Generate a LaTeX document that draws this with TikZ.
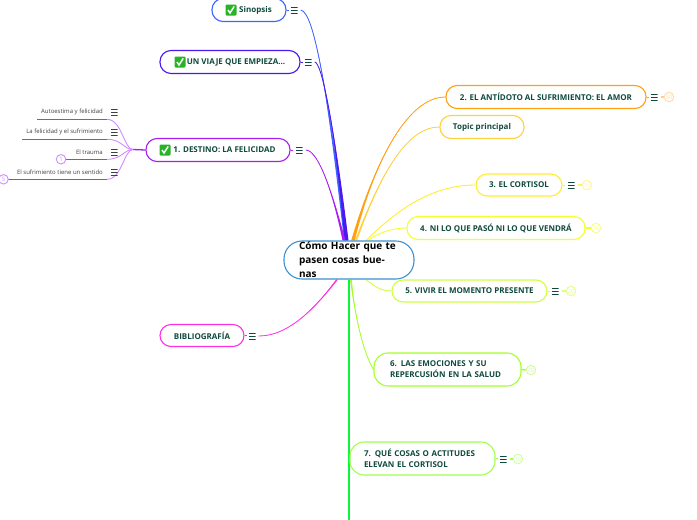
\documentclass[tikz,border=0pt]{standalone}
\usepackage{fontspec}
\setmainfont{Open Sans}
\usetikzlibrary{calc,backgrounds}
\definecolor{cSin}{HTML}{3F63FF}
\definecolor{cVia}{HTML}{4A18F0}
\definecolor{cDes}{HTML}{A81EF0}
\definecolor{cUnd}{HTML}{B030FF}
\definecolor{cSub}{HTML}{D08CFF}
\definecolor{cAnt}{HTML}{FFA010}
\definecolor{cTop}{HTML}{FFD040}
\definecolor{cTre}{HTML}{FFEE30}
\definecolor{cCua}{HTML}{F2FF30}
\definecolor{cCin}{HTML}{D0FF40}
\definecolor{cSei}{HTML}{A4FF28}
\definecolor{cSie}{HTML}{A0FF50}
\definecolor{cGre}{HTML}{08F838}
\definecolor{cBib}{HTML}{FF30E4}
\definecolor{cRoot}{HTML}{3E90D0}
\definecolor{cTxt}{HTML}{0F4A3C}
\tikzset{
  x=1pt,y=-1pt,
  topicbox/.style={draw=#1,line width=1.1pt,fill=white,rounded corners=11pt,inner sep=0pt,
    text=cTxt,font=\bfseries\fontsize{8}{11.2}\selectfont,align=left},
  menuicon/.style={minimum width=7pt,minimum height=7pt,inner sep=0pt,
    path picture={\draw[#1,line width=.7pt]
      (path picture bounding box.north west)++(0,.5) -- ++(7,0)
      ++(-7,3) -- ++(7,0) ++(-7,3) -- ++(7,0);}},
  countnode/.style={circle,draw=#1,line width=.9pt,fill=white,inner sep=0pt,minimum size=9.5pt,
    text=#1,font=\fontsize{6}{6}\selectfont},
  subtext/.style={anchor=east,inner sep=0pt,text=black!75,font=\fontsize{6}{7}\selectfont},
  subline/.style={draw=cUnd,line width=1.5pt},
  thinlink/.style={draw=#1,line width=.9pt},
  stublink/.style={draw=#1,line width=1.3pt},
  check/.pic={
    \fill[rounded corners=1.2pt,fill=green!65!black!85!white] (-5.5,-5.5) rectangle (5.5,5.5);
    \draw[white,line width=1.5pt] (-3,0) -- (-1,3) -- (3.2,-3.6);
  }
}
% colour, start, control 1, control 2, end, half width at start
\newcommand\taper[6]{%
  \fill[#1] ($(#2)+(-#6,0)$) .. controls (#3) and (#4) .. (#5) .. controls (#4) and (#3) .. ($(#2)+(#6,0)$) -- cycle;
  \draw[#1,line width=.8pt] (#2) .. controls (#3) and (#4) .. (#5);}
\begin{document}
\begin{tikzpicture}
\useasboundingbox (0,0) rectangle (697,520);
\clip (0,0) rectangle (697,520);

% root
\node[topicbox=cRoot,rounded corners=18pt,text=black,font=\bfseries\fontsize{10}{14}\selectfont,
  minimum width=130pt,minimum height=38pt,text width=100pt] (root) at (349,260) {Cómo Hacer que te\\pasen cosas buenas};

% left branches
\node[topicbox=cSin,minimum width=74pt,minimum height=23pt] (sin) at (249,10) {\hspace*{13pt}Sinopsis};
\pic at (231,10) {check};
\node[menuicon=cTxt] (msin) at (294,10) {};
\node[topicbox=cVia,minimum width=140pt,minimum height=23pt] (via) at (230,62) {\hspace*{12pt}UN VIAJE QUE EMPIEZA...};
\pic at (180,62) {check};
\node[menuicon=cTxt] (mvia) at (308,62) {};
\node[topicbox=cDes,minimum width=144pt,minimum height=23pt] (des) at (218,150) {\hspace*{13pt}1. DESTINO: LA FELICIDAD};
\pic at (165,150) {check};
\node[menuicon=cTxt] (mdes) at (299,150) {};
\node[topicbox=cBib,minimum width=84pt,minimum height=22pt] (bib) at (202,335.5) {BIBLIOGRAFÍA};
\node[menuicon=cTxt] (mbib) at (252,336) {};

% sub topics
\node[subtext] (s1) at (103,112) {Autoestima y felicidad};
\node[subtext] (s2) at (103,132) {La felicidad y el sufrimiento};
\node[subtext] (s3) at (103,152) {El trauma};
\node[subtext] (s4) at (103,172) {El sufrimiento tiene un sentido};
\node[menuicon=black!75] (ms1) at (114,112) {};
\node[menuicon=black!75] (ms2) at (114,132) {};
\node[menuicon=black!75] (ms3) at (114,152) {};
\node[menuicon=black!75] (ms4) at (114,172) {};
\coordinate (u1l) at (37,119.3);  \coordinate (u1r) at (107,119.3);
\coordinate (u2l) at (22,139.3);  \coordinate (u2r) at (107,139.3);
\coordinate (u3l) at (71,159.3);  \coordinate (u3r) at (107,159.3);
\coordinate (u4l) at (8,179.3);   \coordinate (u4r) at (107,179.3);
\coordinate (hub) at (133,149.5);
\node[countnode=cSub] (c3) at (61,159.3) {1};
\node[countnode=cSub] (c4) at (3.5,179.3) {5};

% right branches
\node[topicbox=cAnt,minimum width=200pt,minimum height=23pt] (ant) at (546,97) {2. EL ANTÍDOTO AL SUFRIMIENTO: EL AMOR};
\node[menuicon=cTxt] (mant) at (654,97) {};
\node[countnode=cAnt!35] (cant) at (669,97) {30};
\node[topicbox=cTop,minimum width=84pt,minimum height=23pt] (top) at (482,127) {Topic principal};
\node[topicbox=cTre,minimum width=86pt,minimum height=22pt] (tre) at (519,185) {3. EL CORTISOL};
\node[menuicon=cTxt] (mtre) at (571,185) {};
\node[countnode=cTre!50] (ctre) at (587,185) {15};
\node[topicbox=cCua,minimum width=178pt,minimum height=23pt] (cua) at (496,228) {4. NI LO QUE PASÓ NI LO QUE VENDRÁ};
\node[countnode=cCua!60] (ccua) at (596,228) {16};
\node[topicbox=cCin,minimum width=155pt,minimum height=22pt] (cin) at (469.5,291) {5. VIVIR EL MOMENTO PRESENTE};
\node[menuicon=cTxt] (mcin) at (555,291) {};
\node[countnode=cCin!60] (ccin) at (571,291) {20};
\node[topicbox=cSei,rounded corners=14pt,minimum width=147pt,minimum height=33pt,text width=115pt] (sei) at (447.5,369.5) {6. LAS EMOCIONES Y SU\\REPERCUSIÓN EN LA SALUD};
\node[countnode=cSei!50] (csei) at (531,370) {20};
\node[topicbox=cSie,rounded corners=14pt,minimum width=145pt,minimum height=33pt,text width=117pt] (sie) at (422.5,458.5) {7. QUÉ COSAS O ACTITUDES\\ELEVAN EL CORTISOL};
\node[menuicon=cTxt] (msie) at (503,459) {};
\node[countnode=cSie!50] (csie) at (518,459) {10};
\coordinate (gend) at (349,525);

\begin{scope}[on background layer]
  % tapered main branches
  \taper{cSin}{root.north-|346,0}{328,100}{315,12}{$(msin.east)+(3,0)$}{2}
  \taper{cVia}{root.north-|346.5,0}{335,130}{322,62}{$(mvia.east)+(3,0)$}{2}
  \taper{cDes}{root.north-|344,0}{332,190}{318,150}{$(mdes.east)+(3,0)$}{1.5}
  \taper{cAnt}{root.north-|353,0}{372,170}{405,97}{ant.west}{1.8}
  \taper{cTop}{root.north-|356,0}{382,170}{408,127}{top.west}{1.1}
  \taper{cBib}{root.south-|337,0}{310,315}{285,336}{$(mbib.east)+(3,0)$}{.9}
  \taper{cSei}{root.south-|351,0}{354,310}{362,350}{sei.west}{.9}
  \draw[cGre,line width=2.8pt] (root.south-|349,0) -- (gend);
  \draw[thinlink=cTre] (root.north-|366,0) .. controls (395,212) and (430,185) .. (tre.west);
  \draw[thinlink=cCua] (root.north-|368,0) .. controls (378,233) and (392,228) .. (cua.west);
  \draw[thinlink=cCin] (root.south-|366,0) .. controls (375,287) and (382,291) .. (cin.west);
  % stubs to menus and counters
  \draw[thinlink=cSin] (sin.east) -- ++(2,0);
  \draw[thinlink=cVia] (via.east) -- ++(2,0);
  \draw[thinlink=cDes] (des.east) -- ++(2,0);
  \draw[thinlink=cBib] (bib.east) -- ++(2,0);
  \draw[thinlink=cAnt] (ant.east) -- ++(2,0);
  \draw[stublink=cAnt!50] ($(mant.east)+(3,0)$) -- (cant.west);
  \draw[thinlink=cTre] (tre.east) -- ++(2,0);
  \draw[stublink=cTre!70] ($(mtre.east)+(3,0)$) -- (ctre.west);
  \draw[stublink=cCua] (cua.east) -- (ccua.west);
  \draw[thinlink=cCin] (cin.east) -- ++(2,0);
  \draw[stublink=cCin!70] ($(mcin.east)+(3,0)$) -- (ccin.west);
  \draw[stublink=cSei] (sei.east) -- (csei.west);
  \draw[thinlink=cSie] (sie.east) -- ++(2,0);
  \draw[stublink=cSie] ($(msie.east)+(3,0)$) -- (csie.west);
  % sub-branches
  \draw[stublink=cDes] (des.west) -- (hub);
  \draw[subline] (u1l) -- (u1r);
  \draw[subline] (u2l) -- (u2r);
  \draw[subline] (u3l) -- (u3r);
  \draw[subline] (u4l) -- (u4r);
  \draw[thinlink=cSub] (u1r) .. controls (122,119.3) and (124,149.5) .. (hub);
  \draw[thinlink=cSub] (u2r) .. controls (122,139.3) and (124,149.5) .. (hub);
  \draw[thinlink=cSub] (u3r) .. controls (122,159.3) and (124,149.5) .. (hub);
  \draw[thinlink=cSub] (u4r) .. controls (122,179.3) and (124,149.5) .. (hub);
  \draw[subline] (c3.east) -- (u3l);
  \draw[subline] (c4.east) -- (u4l);
\end{scope}
\end{tikzpicture}
\end{document}
